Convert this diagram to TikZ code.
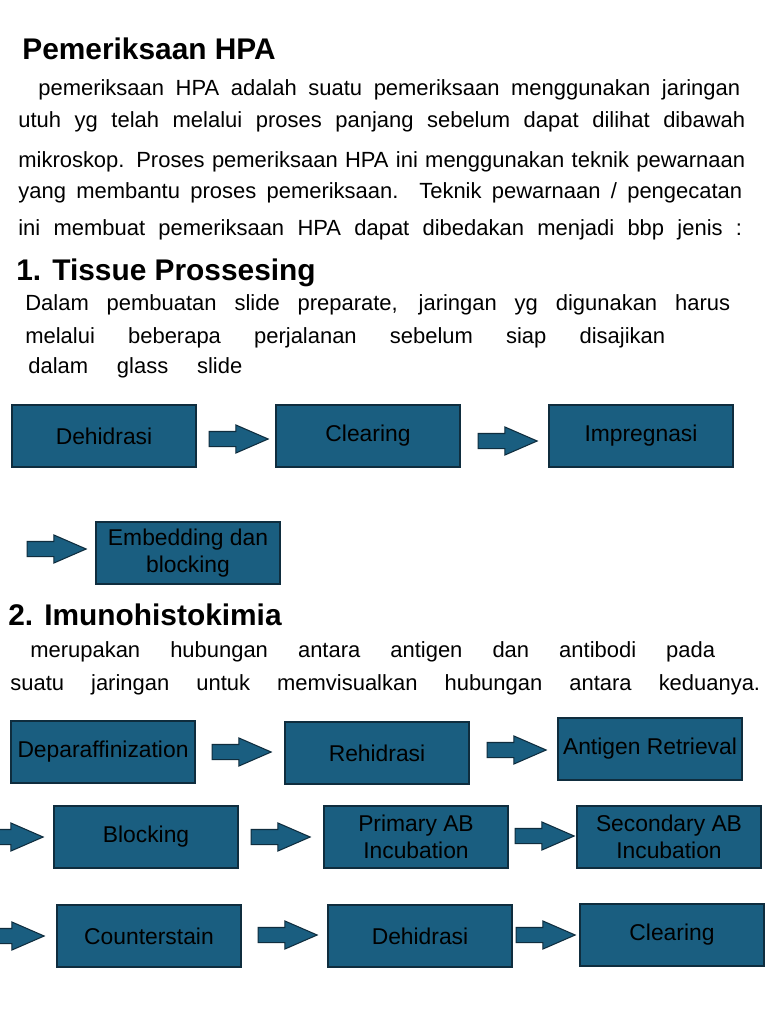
\documentclass[tikz,border=0pt]{standalone}
\usepackage{fontspec}
\setmainfont{Liberation Sans}
\usetikzlibrary{shapes.arrows}
\definecolor{boxblue}{RGB}{26,94,128}
\definecolor{boxedge}{RGB}{15,45,62}
\newcommand{\spreadline}[2]{\makebox[#1][s]{#2}}

\begin{document}
\begin{tikzpicture}[
    x=0.02cm, y=-0.02cm,
    stepbox/.style={rectangle, draw=boxedge, fill=boxblue, line width=0.7pt,
                minimum width=3.68cm, minimum height=1.24cm, inner sep=2pt,
                font=\fontsize{13}{15}\selectfont, align=center},
    blockarrow/.style={single arrow, draw=boxedge, fill=boxblue, line width=0.6pt,
                minimum height=1.18cm, inner xsep=0pt, inner ysep=0.14cm,
                single arrow head extend=0.13cm, single arrow tip angle=47},
    heading/.style={font=\fontsize{17}{20}\selectfont\bfseries, anchor=base west, inner sep=0pt},
    para/.style={font=\fontsize{12.5}{14}\selectfont, anchor=base west, inner sep=0pt}
]
\path[use as bounding box] (0,0) rectangle (768,1024);
\clip (0,0) rectangle (768,1024);
\fill[white] (0,0) rectangle (768,1024);

% Title and introduction
\node[heading] (title) at (22,60) {Pemeriksaan HPA};
\node[para] (p1) at (38,95)  {\spreadline{14.04cm}{pemeriksaan HPA adalah suatu pemeriksaan menggunakan jaringan}};
\node[para] (p2) at (18,128) {\spreadline{14.54cm}{utuh yg telah melalui proses panjang sebelum dapat dilihat dibawah}};
\node[para] (p3) at (18,167) {\spreadline{14.54cm}{mikroskop. Proses pemeriksaan HPA ini menggunakan teknik pewarnaan}};
\node[para] (p4) at (18,198) {\spreadline{14.48cm}{yang membantu proses pemeriksaan. Teknik pewarnaan / pengecatan}};
\node[para] (p5) at (18,235) {\spreadline{14.48cm}{ini membuat pemeriksaan HPA dapat dibedakan menjadi bbp jenis :}};

% Section 1
\node[heading] (sec1) at (16,280) {1. Tissue Prossesing};
\node[para] (q1) at (25,310) {\spreadline{14.1cm}{Dalam pembuatan slide preparate, jaringan yg digunakan harus}};
\node[para] (q2) at (25,343) {\spreadline{12.8cm}{melalui beberapa perjalanan sebelum siap disajikan}};
\node[para] (q3) at (28,373) {\spreadline{4.28cm}{dalam glass slide}};

\node[stepbox] (dehA) at (104,436)   {Dehidrasi};
\node[stepbox] (clrA) at (368,436)   {Clearing};
\node[stepbox] (imp)  at (641,436)   {Impregnasi};
\node[stepbox] (emb)  at (188,553)   {Embedding dan\\blocking};

\node[blockarrow] (a1) at (230,439) {};
\node[blockarrow] (a2) at (499,441) {};
\node[blockarrow] (a3) at (48,549)  {};

% Section 2
\node[heading] (sec2) at (8,625) {2. Imunohistokimia};
\node[para] (r1) at (30,657) {\spreadline{13.7cm}{merupakan hubungan antara antigen dan antibodi pada}};
\node[para] (r2) at (10,690) {\spreadline{15.0cm}{suatu jaringan untuk memvisualkan hubungan antara keduanya.}};

\node[stepbox] (dep)  at (103,752) {Deparaffinization};
\node[stepbox] (reh)  at (377,753) {Rehidrasi};
\node[stepbox] (ant)  at (650,749) {Antigen Retrieval};
\node[stepbox] (blk)  at (146,837) {Blocking};
\node[stepbox] (pri)  at (416,837) {Primary AB\\Incubation};
\node[stepbox] (scd)  at (669,837) {Secondary AB\\Incubation};
\node[stepbox] (cst)  at (149,936) {Counterstain};
\node[stepbox] (dehB) at (420,936) {Dehidrasi};
\node[stepbox] (clrB) at (672,935) {Clearing};

\node[blockarrow] (b1) at (233,752) {};
\node[blockarrow] (b2) at (508,750) {};
\node[blockarrow] (b3) at (5,837)   {};
\node[blockarrow] (b4) at (272,837) {};
\node[blockarrow] (b5) at (536,836) {};
\node[blockarrow] (b6) at (6,936)   {};
\node[blockarrow] (b7) at (279,935) {};
\node[blockarrow] (b8) at (537,935) {};

\end{tikzpicture}
\end{document}
